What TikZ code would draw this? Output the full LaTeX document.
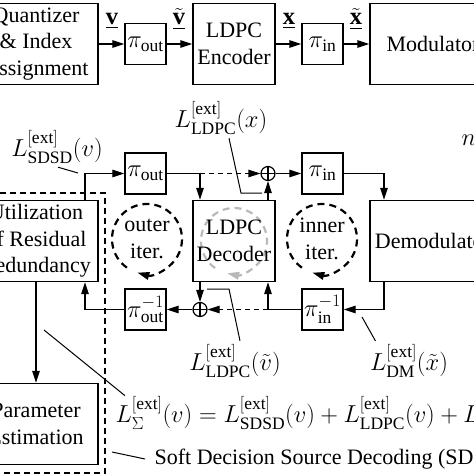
\documentclass[tikz,border=0pt]{standalone}
\RequirePackage{fix-cm}
\usepackage{amsmath}
\usepackage{fontspec}
\setmainfont{Liberation Serif}
\DeclareMathSizes{22}{24.5}{17.5}{13}
\usepackage{tikz}
\usetikzlibrary{arrows.meta,backgrounds}

\begin{document}
\begin{tikzpicture}[x=1pt, y=-1pt, font=\fontsize{22}{26.5}\selectfont,
  line width=1.2pt, >={Triangle[length=12pt,width=7.5pt]},
  blk/.style={draw, line width=1.4pt, minimum width=82pt, minimum height=81pt, align=center, inner sep=0pt},
  wide/.style={blk, minimum width=124pt},
  perm/.style={draw, line width=1.4pt, minimum width=41pt, minimum height=41pt, inner sep=0pt},
  sum/.style={draw, circle, minimum size=14pt, inner sep=0pt,
    path picture={\draw (path picture bounding box.north) -- (path picture bounding box.south)
      (path picture bounding box.west) -- (path picture bounding box.east);}},
  lbl/.style={inner sep=0pt},
  fwd/.style={->, dash pattern=on 5pt off 4pt},
  iterloop/.style={dash pattern=on 7pt off 5pt, line width=2.2pt, ->},
  sdsdframe/.style={dash pattern=on 6pt off 4pt}]
\useasboundingbox (0,0) rectangle (474,474);
\clip (0,0) rectangle (474,474);

\node[wide] (quant) at (36,44) {Quantizer\\\& Index\\Assignment};
\node[perm] (po1) at (145.5,44) {$\pi_{\mathrm{out}}$};
\node[blk] (enc) at (234,44) {LDPC\\Encoder};
\node[perm] (pi1) at (322.5,44) {$\pi_{\mathrm{in}}$};
\node[blk, minimum width=126pt] (mod) at (433,44) {Modulator};
\draw[->] (quant.east) -- (po1.west);
\draw[->] (po1.east) -- (enc.west);
\draw[->] (enc.east) -- (pi1.west);
\draw[->] (pi1.east) -- (mod.west);
\node (lv) at (112,21) {$\underline{\mathbf{v}}$};
\node (lvt) at (179,19) {$\underline{\tilde{\mathbf{v}}}$};
\node (lx) at (289,21) {$\underline{\mathbf{x}}$};
\node (lxt) at (356,19) {$\underline{\tilde{\mathbf{x}}}$};

\node[perm] (po2) at (145.5,173.5) {$\pi_{\mathrm{out}}$};
\node[sum] (add1) at (268,173.5) {};
\node[perm] (pi2) at (322.5,173.5) {$\pi_{\mathrm{in}}$};
\node[blk] (dec) at (234,241) {LDPC\\Decoder};
\node[blk, minimum width=126pt] (demod) at (433,241) {Demodulator};
\node[wide] (util) at (36,241) {Utilization\\of Residual\\Redundancy};
\node[perm] (po3) at (145.5,309.5) {$\pi_{\mathrm{out}}^{-1}$};
\node[sum] (add2) at (200,309.5) {};
\node[perm] (pi3) at (322.5,309.5) {$\pi_{\mathrm{in}}^{-1}$};
\node[wide] (param) at (36,424) {Parameter\\Estimation};
\node[align=center] (outer) at (147,239) {outer\\iter.};
\node[align=center] (inner) at (322,239) {inner\\iter.};

\coordinate (c1) at (85,173.5);
\coordinate (c2) at (200,173.5);
\coordinate (c3) at (384,173.5);
\coordinate (c4) at (384,309.5);
\coordinate (c5) at (268,309.5);
\coordinate (c6) at (85,309.5);
\draw[->] (util.north -| c1) -- (c1) -- (po2.west);
\draw (po2.east) -- (c2);
\draw[fwd] (c2) -- (add1.west);
\draw[->] (c2) -- (c2 |- dec.north);
\draw[->] (dec.north -| add1) -- (add1.south);
\draw[->] (add1.east) -- (pi2.west);
\draw[->] (pi2.east) -- (c3) -- (c3 |- demod.north);
\draw[->] (demod.south -| c4) -- (c4) -- (pi3.east);
\draw (pi3.west) -- (c5);
\draw[fwd] (c5) -- (add2.east);
\draw[->] (c5) -- (c5 |- dec.south);
\draw[->] (dec.south -| add2) -- (add2.north);
\draw[->] (add2.west) -- (po3.east);
\draw[->] (po3.west) -- (c6) -- (c6 |- util.south);
\draw[->] (util.south) -- (param.north);

\draw[iterloop] ([shift={(-235:35)}]outer.center) arc[start angle=-235, end angle=106, radius=35];
\draw[iterloop] ([shift={(-235:35)}]inner.center) arc[start angle=-235, end angle=106, radius=35];
\begin{scope}[on background layer]
\draw[iterloop, gray!55] ([shift={(-235:33)}]dec.center) arc[start angle=-235, end angle=102, radius=33];
\end{scope}

\node[lbl] (lldx) at (221,118) {$L^{[\mathrm{ext}]}_{\mathrm{LDPC}}(x)$};
\node[lbl] (lsdsd) at (57,147) {$L^{[\mathrm{ext}]}_{\mathrm{SDSD}}(v)$};
\node[lbl] (lldv) at (235,361) {$L^{[\mathrm{ext}]}_{\mathrm{LDPC}}(\tilde{v})$};
\node[lbl] (ldm) at (409,361) {$L^{[\mathrm{ext}]}_{\mathrm{DM}}(\tilde{x})$};
\node[lbl, anchor=west] (lsum) at (115,413) {$L^{[\mathrm{ext}]}_{\Sigma}(v) = L^{[\mathrm{ext}]}_{\mathrm{SDSD}}(v) + L^{[\mathrm{ext}]}_{\mathrm{LDPC}}(v) + L^{[\mathrm{ext}]}_{\mathrm{DM}}(v)$};
\node[lbl, anchor=west] (sdsd) at (154,459) {Soft Decision Source Decoding (SDSD)};
\node[lbl, anchor=west] (noise) at (461,140) {$n$};

\coordinate (p1) at (78,173);
\coordinate (p2) at (241,193);
\coordinate (p3) at (262,193);
\coordinate (p4) at (229,289);
\coordinate (p5) at (207,289);
\coordinate (p6) at (362,317);
\coordinate (p7) at (44,330);
\coordinate (p8) at (112,452);
\draw[line width=1pt] ([xshift=1pt, yshift=-3pt]lsdsd.south) -- (p1);
\draw[line width=1pt] ([xshift=8pt, yshift=-3pt]lldx.south) -- (p2) -- (p3);
\draw[line width=1pt] ([xshift=5pt, yshift=3pt]lldv.north) -- (p4) -- (p5);
\draw[line width=1pt] ([xshift=6pt, yshift=3pt]ldm.north west) -- (p6);
\draw[line width=1pt] ([xshift=10pt]lsum.north west) -- (p7);
\draw[line width=1pt] ([xshift=-9pt]sdsd.west) -- (p8);

\draw[sdsdframe] (-10,193) -- (105,193) -- (105,473) -- (-10,473);
\end{tikzpicture}
\end{document}
